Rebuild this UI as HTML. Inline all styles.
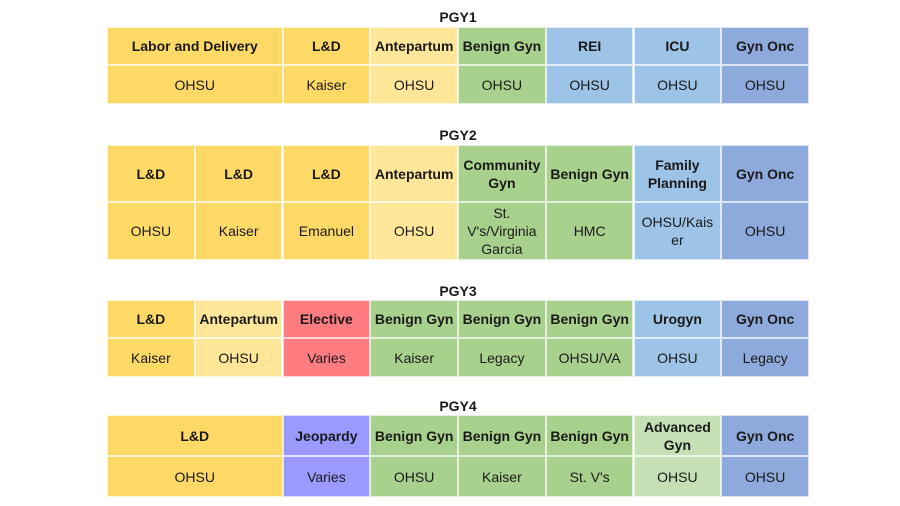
<!DOCTYPE html>
<html><head><meta charset="utf-8"><style>
body{margin:0;width:900px;height:506px;background:#fff;position:relative;overflow:hidden;font-family:"Liberation Sans",sans-serif;color:#1a1a1a}
.t{position:absolute;left:0;width:916px;text-align:center;font-weight:bold;font-size:14px}
.c{position:absolute;display:flex;align-items:center;justify-content:center;text-align:center;font-size:14px;line-height:18px;box-sizing:border-box;border:0.5px solid rgba(255,255,255,0.7)}
.b{font-weight:bold}
</style></head><body>
<div class="t" style="top:9px">PGY1</div>
<div class="t" style="top:127px">PGY2</div>
<div class="t" style="top:283px">PGY3</div>
<div class="t" style="top:398px">PGY4</div>
<script>
const X=[107,194.8,282.5,370.3,458,545.8,633.5,721.3,809];
const Y=[O=[27,65,104],[145,202,260],[300,338,377],[415,456,497]];
const C={y:"#FFD966",ly:"#FFE699",g:"#A9D18E",lg:"#C5E0B4",b:"#9DC3E6",db:"#8EA9DB",r:"#FF7C80",p:"#9999FF"};
const T=[
[[0,2,"y","Labor and Delivery","OHSU"],[2,1,"y","L&amp;D","Kaiser"],[3,1,"ly","Antepartum","OHSU"],[4,1,"g","Benign Gyn","OHSU"],[5,1,"b","REI","OHSU"],[6,1,"b","ICU","OHSU"],[7,1,"db","Gyn Onc","OHSU"]],
[[0,1,"y","L&amp;D","OHSU"],[1,1,"y","L&amp;D","Kaiser"],[2,1,"y","L&amp;D","Emanuel"],[3,1,"ly","Antepartum","OHSU"],[4,1,"g","Community<br>Gyn","St.<br>V's/Virginia<br>Garcia"],[5,1,"g","Benign Gyn","HMC"],[6,1,"b","Family<br>Planning","OHSU/Kais<br>er"],[7,1,"db","Gyn Onc","OHSU"]],
[[0,1,"y","L&amp;D","Kaiser"],[1,1,"ly","Antepartum","OHSU"],[2,1,"r","Elective","Varies"],[3,1,"g","Benign Gyn","Kaiser"],[4,1,"g","Benign Gyn","Legacy"],[5,1,"g","Benign Gyn","OHSU/VA"],[6,1,"b","Urogyn","OHSU"],[7,1,"db","Gyn Onc","Legacy"]],
[[0,2,"y","L&amp;D","OHSU"],[2,1,"p","Jeopardy","Varies"],[3,1,"g","Benign Gyn","OHSU"],[4,1,"g","Benign Gyn","Kaiser"],[5,1,"g","Benign Gyn","St. V's"],[6,1,"lg","Advanced<br>Gyn","OHSU"],[7,1,"db","Gyn Onc","OHSU"]]];
let h="";
T.forEach((r,i)=>{const y=Y[i];r.forEach(([s,n,c,a,b])=>{const l=X[s],w=X[s+n]-l;
h+=`<div class="c b" style="left:${l}px;top:${y[0]}px;width:${w}px;height:${y[1]-y[0]}px;background:${C[c]}">${a}</div>`;
h+=`<div class="c" style="left:${l}px;top:${y[1]}px;width:${w}px;height:${y[2]-y[1]}px;background:${C[c]}">${b}</div>`;});});
document.body.insertAdjacentHTML("beforeend",h);
</script>
</body></html>
